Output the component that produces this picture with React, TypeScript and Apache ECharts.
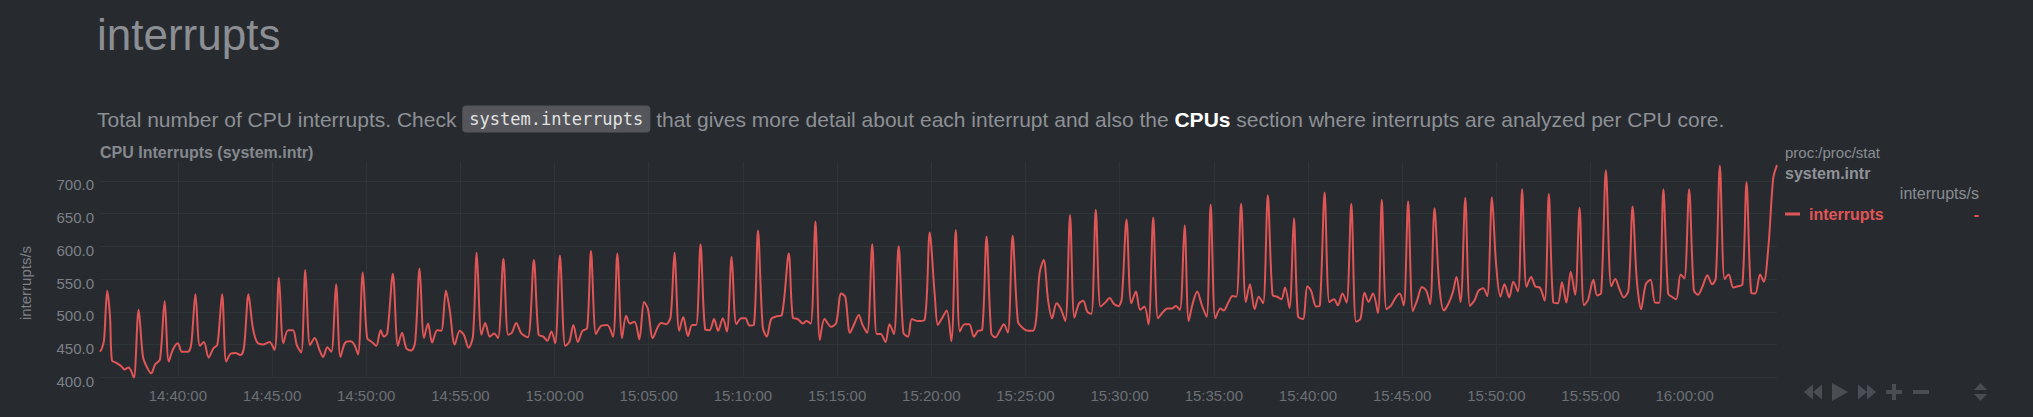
import React, { useEffect, useRef } from "react";
import * as echarts from "echarts";

// ---------- data ----------
const REF_TIME = "14:40:00"; // offsets below are seconds relative to this time
const X_START = "14:35:52";
const X_END = "16:04:54";

const xTickLabels = [
  "14:40:00", "14:45:00", "14:50:00", "14:55:00", "15:00:00", "15:05:00", "15:10:00", "15:15:00", "15:20:00",
  "15:25:00", "15:30:00", "15:35:00", "15:40:00", "15:45:00", "15:50:00", "15:55:00", "16:00:00",
];

const offsetsSec = [
  -248, -242, -235, -225, -216, -210, -196, -180, -170, -157, -148, -140, -125, -111, -97, -85, -72, -57, -42, -29, -16,
  0, 13, 32, 43, 56, 70, 83, 98, 113, 126, 141, 154, 168, 183, 200, 211, 225, 239, 253, 271, 292, 308, 322, 336, 351,
  367, 379, 393, 406, 421, 436, 451, 463, 476, 489, 504, 518, 533, 550, 563, 574, 589, 603, 618, 632,
  646, 656, 667, 685, 701, 714, 728, 744, 756, 770, 784, 797, 810, 826, 839, 854, 866, 882, 898, 911, 926, 940, 952,
  967, 979, 994, 1007, 1020, 1037, 1052, 1064, 1078, 1094, 1115, 1134, 1149, 1164, 1177, 1190, 1202, 1217, 1234, 1247,
  1260, 1274, 1289, 1304, 1316, 1332, 1347, 1368, 1386, 1400, 1415, 1428, 1440, 1455, 1470, 1485, 1497, 1513,
  1529, 1540, 1556, 1570, 1582, 1597, 1610, 1625, 1638, 1651, 1665, 1680, 1694, 1708, 1721, 1736, 1749, 1764, 1779,
  1795, 1808, 1821, 1835, 1848, 1863, 1876, 1890, 1906, 1924, 1946, 1959, 1975, 1991, 2002, 2016, 2031, 2045, 2060,
  2081, 2097, 2113, 2126, 2141, 2156, 2169, 2181, 2196, 2212, 2226, 2239, 2254, 2267, 2281, 2296, 2311, 2326, 2338,
  2355, 2379, 2395, 2411,
  2421, 2434, 2449, 2464, 2478, 2491, 2506, 2521, 2536, 2549, 2562, 2576, 2591, 2604, 2619, 2631, 2644, 2659, 2676,
  2692, 2708, 2724, 2734, 2745, 2758, 2772, 2785, 2799, 2812, 2827, 2842, 2856, 2871, 2884, 2897, 2910, 2924, 2939,
  2954, 2968, 2982, 2997, 3007, 3022, 3037, 3052, 3065, 3079, 3092, 3107, 3122, 3137, 3152, 3166, 3179, 3192, 3207,
  3220, 3233, 3247, 3262, 3277, 3290, 3305,
  3321, 3332, 3345, 3360, 3372, 3387, 3402, 3415, 3430, 3443, 3457, 3472, 3487, 3502, 3515, 3527, 3541, 3555, 3568,
  3584, 3598, 3610, 3626, 3638, 3653, 3668, 3683, 3695, 3710, 3723, 3738, 3753, 3767, 3780, 3793, 3807, 3823, 3835,
  3850, 3865, 3878, 3892, 3905, 3919, 3934, 3948, 3963, 3977, 3989, 4003, 4018, 4033, 4048, 4062, 4073, 4086, 4101,
  4116, 4131, 4143, 4158, 4171, 4186, 4199,
  4213, 4226, 4241, 4254, 4269, 4282, 4296, 4311, 4324, 4339, 4354, 4367, 4381, 4396, 4409, 4423, 4437, 4451, 4465,
  4479, 4492, 4509, 4521, 4534, 4549, 4566, 4579, 4591, 4606, 4621, 4634, 4647, 4661, 4676, 4691, 4706, 4719, 4732,
  4747, 4759, 4773, 4787, 4799, 4814, 4829, 4842, 4857, 4872, 4887, 4899, 4912, 4927, 4940, 4955, 4969, 4984, 4997,
  5012, 5025, 5040, 5052, 5067, 5082, 5094,
];

const interruptsPerSec = [
  439, 444, 457, 532, 492, 426, 422, 417, 412, 415, 409, 399, 503, 431, 414, 406, 420, 427, 516, 424, 442,
  452, 439, 439, 452, 527, 448, 454, 430, 444, 450, 527, 424, 436, 437, 434, 447, 527, 475, 453, 450, 454, 442, 552, 452, 472,
  472, 449, 438, 564, 449, 460, 442, 431, 446, 439, 542, 431, 453, 455, 449, 435, 560, 460, 454, 448,
  472, 462, 467, 558, 448, 468, 444, 441, 454, 566, 460, 482, 453, 472, 471, 532, 503, 450, 471, 465, 445, 462, 590,
  465, 483, 462, 467, 460, 581, 465, 468, 483, 467, 461, 579, 465, 462, 456, 470, 452, 586, 448, 454,
  480, 454, 471, 475, 593, 466, 478, 480, 462, 589, 460, 494, 482, 485, 458, 515, 505, 460,
  477, 483, 481, 493, 590, 471, 492, 463, 480, 480, 603, 473, 472, 489, 471, 490, 470, 584, 481,
  490, 490, 479, 480, 624, 477, 462, 489, 493, 495, 589, 491, 489, 482, 486, 482, 638, 457, 489,
  477, 483, 528, 523, 468, 483, 495, 480, 468, 603, 466, 466, 454, 481, 466, 600, 468, 462, 489,
  486, 488, 621, 526,
  480, 490, 502, 455, 625, 470, 481, 481, 462, 471, 472, 615, 467, 461, 472, 481, 468, 616, 485,
  475, 471, 471, 488, 559, 579, 518, 490, 513, 505, 486, 648, 491, 513, 517, 500, 497, 656, 508,
  514, 521, 512, 509, 521, 641, 513, 531, 503, 508, 481, 644, 490, 499, 505, 505, 509, 503, 632,
  486, 513, 531, 510, 492, 664, 490,
  505, 502, 513, 524, 523, 665, 515, 542, 504, 523, 513, 678, 526, 523, 519, 537, 506, 643, 493,
  489, 539, 532, 508, 510, 682, 515, 519, 510, 528, 514, 665, 485, 489, 529, 515, 528, 498, 671,
  504, 510, 521, 528, 510, 669, 501, 518, 538, 532, 512, 658, 541, 502, 513, 531, 553, 515, 674,
  509, 518, 532, 536, 524, 675, 574,
  523, 542, 522, 546, 531, 687, 538, 553, 539, 537, 517, 680, 515, 513, 545, 514, 561, 526, 659,
  510, 518, 549, 525, 529, 716, 539, 550, 536, 522, 533, 661, 551, 504, 542, 549, 514, 514, 687,
  528, 523, 519, 557, 551, 687, 533, 526, 539, 556, 542, 551, 723, 550, 557, 537, 539, 542, 698,
  529, 528, 557, 546, 602, 704, 724,
];

const yTickValues = [400, 450, 500, 550, 600, 650, 700];
const Y_MIN = 400;
const Y_MAX = 728;
const Y_STEP = 50;

const TITLE = "interrupts";
const DESC_A = "Total number of CPU interrupts. Check ";
const DESC_CODE = "system.interrupts";
const DESC_C = " that gives more detail about each interrupt and also the ";
const DESC_LINK = "CPUs";
const DESC_E = " section where interrupts are analyzed per CPU core.";
const CHART_TITLE = "CPU Interrupts (system.intr)";
const Y_NAME = "interrupts/s";
const SOURCE = "proc:/proc/stat";
const CONTEXT = "system.intr";
const UNITS = "interrupts/s";
const SERIES_NAME = "interrupts";

// ---------- helpers ----------
const toSec = (hms: string) => {
  const [h, m, s] = hms.split(":").map(Number);
  return h * 3600 + m * 60 + s;
};
const pad = (n: number) => (n < 10 ? "0" + n : "" + n);
const REF_SEC = toSec(REF_TIME);
const fmtOffset = (off: number) => {
  const t = Math.round(REF_SEC + off);
  return pad(Math.floor(t / 3600)) + ":" + pad(Math.floor((t % 3600) / 60)) + ":" + pad(t % 60);
};

const FONT = "'Liberation Sans', Arial, Helvetica, sans-serif";
const MONO = "'DejaVu Sans Mono', 'Liberation Mono', monospace";
const BG = "#272b30";
const GRID = "#2e3537";
const RED = "#e05555";
const ICON = "#4a4e54";

export default function App() {
  const ref = useRef<HTMLDivElement>(null);

  useEffect(() => {
    if (!ref.current) return;
    const chart = echarts.init(ref.current, undefined, { renderer: "svg" });
    const data = offsetsSec.map((o, i) => [o, interruptsPerSec[i]]);
    const xTicks = xTickLabels.map((s) => toSec(s) - REF_SEC);

    const txt = (
      x: number,
      y: number,
      text: string,
      size: number,
      fill: string,
      weight: string = "normal",
      align: string = "left",
      extra: any = {}
    ) => ({
      type: "text",
      x,
      y,
      silent: true,
      ...extra,
      style: {
        text,
        fill,
        fontSize: size,
        fontFamily: FONT,
        fontWeight: weight,
        align,
        verticalAlign: "middle",
      },
    });

    const graphic: any[] = [
      txt(97, 34, TITLE, 44, "#8b8e93"),
      {
        type: "text",
        x: 97,
        y: 119,
        silent: true,
        style: {
          text:
            "{a|" + DESC_A + "}{code|" + DESC_CODE + "}{a|" + DESC_C + "}{b|" + DESC_LINK + "}{a|" + DESC_E + "}",
          verticalAlign: "middle",
          align: "left",
          rich: {
            a: { fill: "#8d9095", fontSize: 21, fontFamily: FONT },
            b: { fill: "#ffffff", fontSize: 21, fontFamily: FONT, fontWeight: "bold" },
            code: {
              fill: "#e2e2e2",
              fontSize: 17,
              fontFamily: MONO,
              backgroundColor: "#54565b",
              borderRadius: 4,
              padding: [5, 7, 5, 7],
            },
          },
        },
      },
      txt(100, 152, CHART_TITLE, 16, "#85888d", "bold"),
      txt(25, 283, Y_NAME, 15, "#7c8086", "normal", "center", { rotation: Math.PI / 2 }),
      txt(1785, 152, SOURCE, 15, "#8a8d92"),
      txt(1785, 173, CONTEXT, 16, "#8f9297", "bold"),
      txt(1979, 193, UNITS, 16, "#8a8d92", "normal", "right"),
      { type: "rect", silent: true, shape: { x: 1785, y: 212.5, width: 15, height: 3 }, style: { fill: RED } },
      txt(1809, 214, SERIES_NAME, 16, RED, "bold"),
      txt(1979, 214, "-", 16, RED, "bold", "right"),
      // playback controls
      { type: "polygon", silent: true, shape: { points: [[1804, 392], [1813, 384.5], [1813, 399.5]] }, style: { fill: ICON } },
      { type: "polygon", silent: true, shape: { points: [[1813, 392], [1822, 384.5], [1822, 399.5]] }, style: { fill: ICON } },
      { type: "polygon", silent: true, shape: { points: [[1832, 383], [1848, 392], [1832, 401]] }, style: { fill: ICON } },
      { type: "polygon", silent: true, shape: { points: [[1858, 384.5], [1867, 392], [1858, 399.5]] }, style: { fill: ICON } },
      { type: "polygon", silent: true, shape: { points: [[1867, 384.5], [1876, 392], [1867, 399.5]] }, style: { fill: ICON } },
      { type: "rect", silent: true, shape: { x: 1886, y: 390, width: 16, height: 4 }, style: { fill: ICON } },
      { type: "rect", silent: true, shape: { x: 1892, y: 384, width: 4, height: 16 }, style: { fill: ICON } },
      { type: "rect", silent: true, shape: { x: 1913, y: 390, width: 16, height: 4 }, style: { fill: ICON } },
      { type: "polygon", silent: true, shape: { points: [[1974, 390], [1980.5, 383], [1987, 390]] }, style: { fill: ICON } },
      { type: "polygon", silent: true, shape: { points: [[1974, 394], [1980.5, 401], [1987, 394]] }, style: { fill: ICON } },
    ];

    chart.setOption({
      animation: false,
      backgroundColor: BG,
      grid: { left: 100, right: 256, top: 162.5, bottom: 39.7, containLabel: false },
      xAxis: {
        type: "value",
        min: toSec(X_START) - REF_SEC,
        max: toSec(X_END) - REF_SEC,
        axisLine: { show: false },
        axisTick: { show: false, customValues: xTicks },
        axisLabel: {
          customValues: xTicks,
          color: "#6c7075",
          fontSize: 15,
          fontFamily: FONT,
          margin: 11,
          hideOverlap: false,
          formatter: (v: number) => fmtOffset(v),
        },
        splitLine: { show: true, showMinLine: false, showMaxLine: false, lineStyle: { color: GRID, width: 1 } },
      },
      yAxis: {
        type: "value",
        min: Y_MIN,
        max: Y_MAX,
        interval: Y_STEP,
        axisLine: { show: true, lineStyle: { color: GRID, width: 1 } },
        axisTick: { show: false },
        axisLabel: {
          color: "#7c8086",
          fontSize: 15,
          fontFamily: FONT,
          margin: 6,
          verticalAlign: "top",
          lineHeight: 8,
          showMaxLabel: false,
          formatter: (v: number) => (yTickValues.includes(v) ? v.toFixed(1) : ""),
        },
        splitLine: { show: true, showMaxLine: false, lineStyle: { color: GRID, width: 1 } },
      },
      series: [
        {
          name: SERIES_NAME,
          type: "line",
          data,
          showSymbol: false,
          smooth: 0.3,
          lineStyle: { color: RED, width: 2 },
          itemStyle: { color: RED },
          emphasis: { disabled: true },
        },
      ],
      graphic,
    });

    return () => chart.dispose();
  }, []);

  return (
    <div
      ref={ref}
      style={{ position: "fixed", left: 0, top: 0, width: 2033, height: 417, background: BG }}
    />
  );
}
